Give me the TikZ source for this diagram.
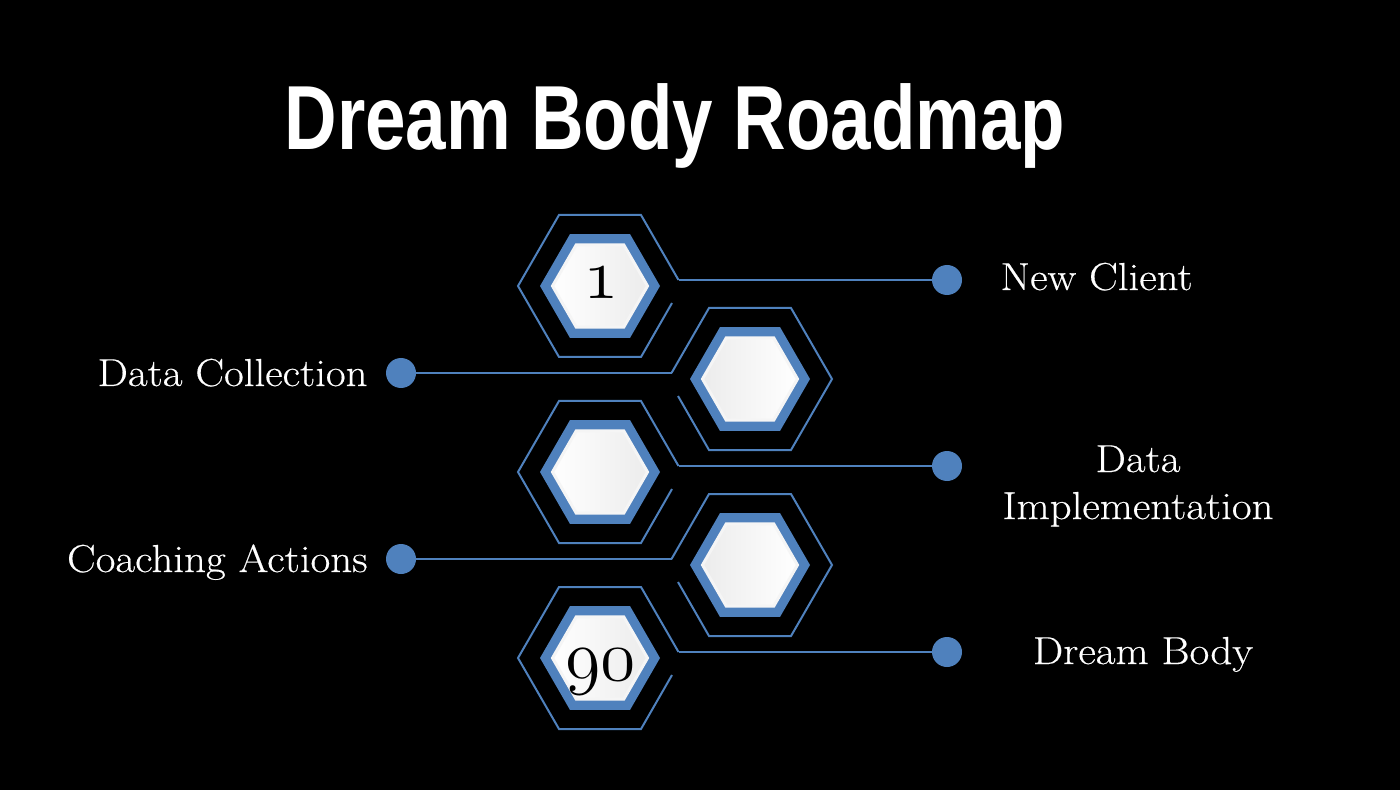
\documentclass[tikz,border=0pt]{standalone}
\usepackage{fontspec}
\usepackage{tikz}
\usetikzlibrary{positioning,shapes.geometric}
\definecolor{hexblue}{HTML}{4F81BD}
\newfontfamily\titlefont{Liberation Sans Bold}[FakeStretch=0.8]
\newfontfamily\lblfont{Latin Modern Roman}[FakeStretch=1.1, FakeBold=0.4]
\newcommand\hexnum[1]{{\usefont{OML}{lmm}{b}{it}#1}}

\begin{document}
\begin{tikzpicture}[
  x=0.5pt, y=-0.5pt,
  hexline/.style={draw=hexblue, line width=1pt},
  bluehex/.style={regular polygon, regular polygon sides=6, fill=hexblue,
                  minimum size=60pt, inner sep=0pt},
  whitehex/.style={regular polygon, regular polygon sides=6, draw=gray!8,
                   line width=1.5pt, minimum size=47.5pt, inner sep=0pt},
  hubdot/.style={circle, fill=hexblue, minimum size=15pt, inner sep=0pt},
  lbl/.style={text=white, font=\lblfont\fontsize{19.5pt}{23.5pt}\selectfont, inner sep=0pt},
  num/.style={text=black, font=\fontsize{24pt}{26pt}\selectfont, inner sep=0pt, scale=1.45}
]
\fill[black] (0,0) rectangle (1400,790);
\node[text=white, font=\fontsize{45.5pt}{50pt}\titlefont, anchor=base, inner sep=0pt]
  (title) at (675,150) {Dream Body Roadmap};

% centre x / centre y / side of the line / dot x / shading
\foreach \cx/\cy/\s/\dx/\lc/\rc/\id in {
  600/286/1/947/white/gray!15/a, 750/379/-1/401/gray!15/white/b,
  600/472/1/947/white/gray!15/c, 750/565/-1/401/gray!15/white/d,
  600/658/1/947/white/gray!15/e}{
  \draw[hexline] ({\cx+(\s)*72},{\cy+17}) -- ({\cx+(\s)*41},{\cy+71})
    -- ({\cx-(\s)*41},{\cy+71}) -- ({\cx-(\s)*82},\cy)
    -- ({\cx-(\s)*41},{\cy-71}) -- ({\cx+(\s)*41},{\cy-71})
    -- ({\cx+(\s)*78.5},{\cy-6}) coordinate (end\id);
  \node[bluehex] (blue\id) at (\cx,\cy) {};
  \node[whitehex, left color=\lc, right color=\rc] (white\id) at (\cx,\cy) {};
  \node[hubdot] (dot\id) at (\dx,{\cy-6}) {};
  \draw[hexline] (end\id) -- (dot\id);
}

\node[num, anchor=base] (one) at (601,299) {\hexnum{1}};
\node[num, anchor=base] (ninety) at (601,680) {\hexnum{90}};

\node[lbl, anchor=base west] (newclient) at (1000,290) {New Client};
\node[lbl, anchor=base east] (datacoll) at (368,386) {Data Collection};
\node[lbl, align=center] (dataimpl) at (1138,486) {Data\\Implementation};
\node[lbl, anchor=base east] (coaching) at (368,572) {Coaching Actions};
\node[lbl, anchor=base] (dreambody) at (1143,664) {Dream Body};
\end{tikzpicture}
\end{document}
